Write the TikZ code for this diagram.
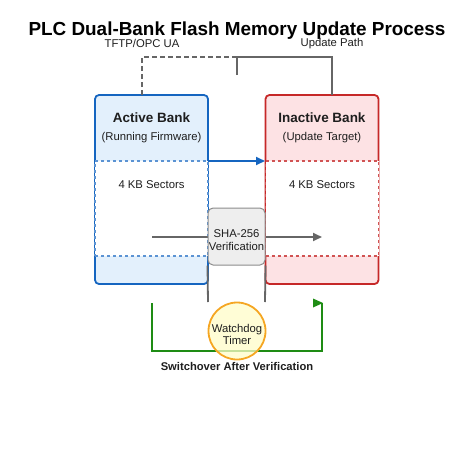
\documentclass[tikz,border=0pt]{standalone}
\usepackage{fontspec}
\setmainfont{Liberation Sans}
\usetikzlibrary{arrows.meta}
\definecolor{bankblue}{RGB}{21,101,192}
\definecolor{fillblue}{RGB}{227,240,252}
\definecolor{bankred}{RGB}{198,40,40}
\definecolor{fillred}{RGB}{253,226,228}
\definecolor{linegray}{RGB}{102,102,102}
\definecolor{shafill}{RGB}{238,238,238}
\definecolor{shadraw}{RGB}{140,140,140}
\definecolor{sgreen}{RGB}{30,140,20}
\definecolor{worange}{RGB}{245,166,35}
\definecolor{wfill}{RGB}{255,253,200}
\definecolor{txt}{RGB}{30,30,30}
\tikzset{
  bankbox/.style={rectangle, rounded corners=4pt, line width=1.8pt, minimum width=113pt, minimum height=189pt, inner sep=0pt},
  secbox/.style={rectangle, fill=white, dashed, dash pattern=on 3pt off 3pt, line width=1.2pt, minimum width=113pt, minimum height=95pt, inner sep=0pt},
  lbl/.style={font=\fontsize{11.3}{13}\selectfont, text=txt, inner sep=0pt},
  blbl/.style={font=\fontsize{13.5}{16}\selectfont\bfseries, text=txt, inner sep=0pt},
  glink/.style={draw=linegray, line width=1.8pt},
}
\begin{document}
\begin{tikzpicture}[x=1pt, y=-1pt]
\useasboundingbox (0,0) rectangle (474,474);
% banks
\node[bankbox, draw=bankblue, fill=fillblue] (active) at (151.5,189.5) {};
\node[secbox, draw=bankblue!70] (actsec) at (151.5,208.5) {};
\node[bankbox, draw=bankred, fill=fillred] (inactive) at (322,189.5) {};
\node[secbox, draw=bankred!80] (inasec) at (322,208.5) {};
\node[blbl] (actt) at (151.5,118) {Active Bank};
\node[lbl] (acts) at (151.5,138) {(Running Firmware)};
\node[lbl] (actk) at (151.5,185) {4 KB Sectors};
\node[blbl] (inat) at (322,118) {Inactive Bank};
\node[lbl] (inas) at (322,138) {(Update Target)};
\node[lbl] (inak) at (322,185) {4 KB Sectors};
% title and top labels
\node[font=\fontsize{18.9}{22}\selectfont\bfseries, text=black, inner sep=0pt] (title) at (237,31) {PLC Dual-Bank Flash Memory Update Process};
\node[lbl] (tftp) at (142,43.5) {TFTP/OPC UA};
\node[lbl] (upath) at (332,43.5) {Update Path};
% top connectors
\coordinate (actTop) at (142,95);
\coordinate (tl) at (142,57);
\coordinate (tm) at (237,57);
\coordinate (tmd) at (237,75);
\coordinate (tr) at (332,57);
\coordinate (inaTop) at (332,95);
\draw[draw=linegray, line width=1.8pt, dash pattern=on 5pt off 3pt] (actTop) -- (tl) -- (tm);
\draw[glink] (tmd) -- (tm) -- (tr) -- (inaTop);
% blue arrow
\coordinate (ba1) at (208,161);
\coordinate (ba2) at (265,161);
\draw[draw=bankblue, line width=1.8pt, -{Triangle[length=9pt,width=8pt]}] (ba1) -- (ba2);
% sha
\coordinate (gl1) at (152,237);
\coordinate (gr2) at (322,237);
\draw[glink] (gl1) -- (237,237);
\node[rectangle, rounded corners=5pt, fill=shafill, draw=shadraw, line width=1pt, minimum width=57pt, minimum height=57pt, inner sep=0pt] (sha) at (236.5,236.5) {};
\node[lbl, align=center] (shat) at (236.5,240) {SHA-256\\[-0.5pt]Verification};
\draw[glink, -{Triangle[length=9pt,width=8pt]}] (sha.east |- gr2) -- (gr2);
% gray verticals
\coordinate (v1) at (208,302);
\coordinate (v2) at (265,302);
\draw[glink] (sha.south west) -- (v1);
\draw[glink] (sha.south east) -- (v2);
% green switchover
\coordinate (g1) at (152,303);
\coordinate (g2) at (152,351);
\coordinate (g3) at (322,351);
\coordinate (g4) at (322,303);
\draw[draw=sgreen, line width=1.8pt] (g1) -- (g2) -- (g3) -- (g4);
\fill[sgreen] (313,298.5) -- (323,303) -- (313,307.5) -- cycle;
% watchdog
\node[circle, minimum size=57pt, inner sep=0pt, draw=worange, line width=1.8pt, fill=wfill, fill opacity=0.75] (wd) at (237,331) {};
\node[lbl, align=center] (wdt) at (237,334.5) {Watchdog\\[-0.5pt]Timer};
\node[font=\fontsize{11.2}{13}\selectfont\bfseries, text=txt, inner sep=0pt] (sw) at (237,366) {Switchover After Verification};
\end{tikzpicture}
\end{document}
